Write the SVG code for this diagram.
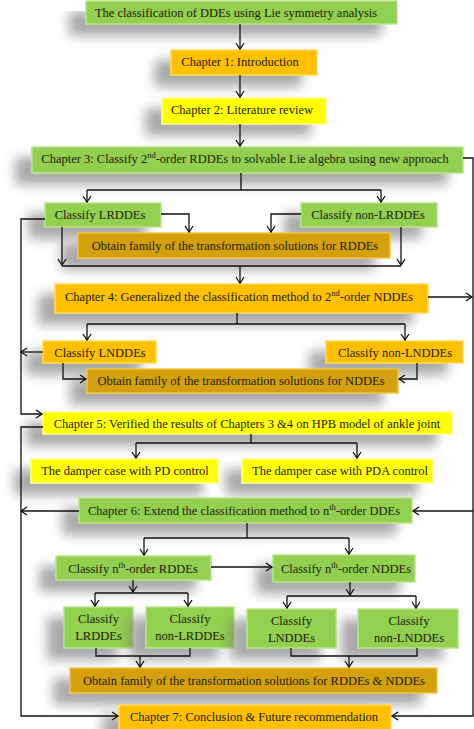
<svg xmlns="http://www.w3.org/2000/svg" width="474" height="729" viewBox="0 0 474 729">
<defs>
<style>
text{font-family:'Liberation Serif','Times New Roman',serif;font-size:12.5px;fill:#1c1c0c;text-anchor:middle}
.g{fill:#92d050;stroke:#b9e48a;stroke-width:1.5}
.o{fill:#ffc000;stroke:#ffd95a;stroke-width:1.5}
.y{fill:#ffff00;stroke:#ffff8c;stroke-width:1.5}
.d{fill:#d4a00c;stroke:#f0c640;stroke-width:1.5}
.b{filter:url(#sh)}
.c path{fill:none;stroke:#111;stroke-width:1.3}
.c path.a{marker-end:url(#ah)}
</style>
<filter id="sh" filterUnits="userSpaceOnUse" x="0" y="0" width="474" height="729">
<feGaussianBlur in="SourceAlpha" stdDeviation="6" result="bl"/>
<feOffset in="bl" dx="-16" dy="11" result="of"/>
<feFlood flood-color="#7a7a7a" flood-opacity="0.65"/>
<feComposite in2="of" operator="in" result="s"/>
<feMerge><feMergeNode in="s"/><feMergeNode in="SourceGraphic"/></feMerge>
</filter>
<marker id="ah" markerUnits="userSpaceOnUse" markerWidth="12" markerHeight="12" viewBox="-8 -6 10 12" refX="0" refY="0" orient="auto">
<path d="M-6,-4 L0,0 L-6,4" fill="none" stroke="#111" stroke-width="1.3"/>
</marker>
</defs>
<rect width="474" height="729" fill="#fff"/>

<g id="title"><rect class="g b" x="86" y="1" width="311" height="23"/><text x="236" y="17">The classification of DDEs using Lie symmetry analysis</text></g>
<g id="ch1"><rect class="o b" x="171" y="50" width="146" height="25"/><text x="240" y="66">Chapter 1: Introduction</text></g>
<g id="ch2"><rect class="y b" x="162" y="98" width="164" height="26"/><text x="242" y="113.5">Chapter 2: Literature review</text></g>
<g id="ch3"><rect class="g b" x="32" y="147" width="431" height="26"/><text x="245" y="162.5">Chapter 3: Classify 2<tspan dy="-5" font-size="8.5">nd</tspan><tspan dy="5">-order RDDEs to solvable Lie algebra using new approach</tspan></text></g>
<g id="lrddes"><rect class="g b" x="45" y="203" width="116" height="24"/><text x="100" y="219">Classify LRDDEs</text></g>
<g id="nonlrddes"><rect class="g b" x="301" y="203" width="136" height="24"/><text x="368" y="219">Classify non-LRDDEs</text></g>
<g id="obtainR"><rect class="d b" x="78" y="233" width="312" height="25"/><text x="235" y="249.5">Obtain family of the transformation solutions for RDDEs</text></g>
<g id="ch4"><rect class="o b" x="55" y="284" width="373" height="29"/><text x="239" y="301">Chapter 4: Generalized the classification method to 2<tspan dy="-5" font-size="8.5">nd</tspan><tspan dy="5">-order NDDEs</tspan></text></g>
<g id="lnddes"><rect class="o b" x="43" y="341" width="113" height="22"/><text x="100" y="356.5">Classify LNDDEs</text></g>
<g id="nonlnddes"><rect class="o b" x="326" y="341" width="137" height="22"/><text x="395" y="356.5">Classify non-LNDDEs</text></g>
<g id="obtainN"><rect class="d b" x="87" y="369" width="311" height="24"/><text x="241" y="384.5">Obtain family of the transformation solutions for NDDEs</text></g>
<g id="ch5"><rect class="y b" x="43" y="412" width="409" height="22"/><text x="247" y="427.5">Chapter 5: Verified the results of Chapters 3 &amp;4 on HPB model of ankle joint</text></g>
<g id="pd"><rect class="y b" x="31" y="459" width="187" height="24"/><text x="125" y="474.5">The damper case with PD control</text></g>
<g id="pda"><rect class="y b" x="242" y="459" width="191" height="24"/><text x="340" y="474.5">The damper case with PDA control</text></g>
<g id="ch6"><rect class="g b" x="79" y="498" width="333" height="25"/><text x="244" y="514.5">Chapter 6: Extend the classification method to n<tspan dy="-5" font-size="8.5">th</tspan><tspan dy="5">-order DDEs</tspan></text></g>
<g id="nthR"><rect class="g b" x="56" y="556" width="155" height="24"/><text x="133" y="572.5">Classify n<tspan dy="-5" font-size="8.5">th</tspan><tspan dy="5">-order RDDEs</tspan></text></g>
<g id="nthN"><rect class="g b" x="273" y="555" width="142" height="27"/><text x="346" y="572.5">Classify n<tspan dy="-5" font-size="8.5">th</tspan><tspan dy="5">-order NDDEs</tspan></text></g>
<g id="s1"><rect class="g b" x="64" y="607" width="69" height="41"/><text x="98.5" y="623">Classify</text><text x="98.5" y="640">LRDDEs</text></g>
<g id="s2"><rect class="g b" x="146" y="607" width="88" height="41"/><text x="190" y="623">Classify</text><text x="190" y="640">non-LRDDEs</text></g>
<g id="s3"><rect class="g b" x="247" y="609" width="89" height="39"/><text x="291.5" y="625">Classify</text><text x="291.5" y="642">LNDDEs</text></g>
<g id="s4"><rect class="g b" x="358" y="609" width="100" height="39"/><text x="409" y="625">Classify</text><text x="409" y="642">non-LNDDEs</text></g>
<g id="obtainRN"><rect class="d b" x="70" y="668" width="367" height="25"/><text x="254" y="684.5">Obtain family of the transformation solutions for RDDEs &amp; NDDEs</text></g>
<g id="ch7"><rect class="o b" x="119" y="705" width="272" height="26"/><text x="254" y="721">Chapter 7: Conclusion &amp; Future recommendation</text></g>

<g id="connectors" class="c">
<path class="a" d="M240,24 V49"/>
<path class="a" d="M240,75 V97"/>
<path class="a" d="M240,124 V146"/>
<path d="M241,173 V190 M87,190 H381"/>
<path class="a" d="M87,190 V202"/>
<path class="a" d="M381,190 V202"/>
<path class="a" d="M161,214 H189 V232"/>
<path class="a" d="M301,214 H271 V232"/>
<path class="a" d="M45,219 H21 V414 H42"/>
<path class="a" d="M62,227 V265"/>
<path class="a" d="M401,227 V265"/>
<path d="M62,266 H401"/>
<path class="a" d="M240,266 V283"/>
<path class="a" d="M463,158 H473 V716 H392"/>
<path class="a" d="M428,297 H472"/>
<path class="a" d="M473,511 H413"/>
<path d="M237,313 V324 M87,324 H405"/>
<path class="a" d="M87,324 V340"/>
<path class="a" d="M405,324 V340"/>
<path class="a" d="M43,352 H21"/>
<path class="a" d="M63,363 V379 H86"/>
<path class="a" d="M417,363 V379 H399"/>
<path class="a" d="M43,427 H21 V716 H118"/>
<path d="M251,434 V443 M136,443 H357"/>
<path class="a" d="M136,443 V458"/>
<path class="a" d="M357,443 V458"/>
<path class="a" d="M79,511 H21"/>
<path d="M247,523 V538 M144,538 H349"/>
<path class="a" d="M144,538 V555"/>
<path class="a" d="M349,538 V554"/>
<path class="a" d="M211,567 H272"/>
<path class="a" d="M133,580 V592"/>
<path d="M95,593 H188"/>
<path class="a" d="M95,593 V606"/>
<path class="a" d="M188,593 V606"/>
<path class="a" d="M350,582 V595"/>
<path d="M287,596 H416"/>
<path class="a" d="M287,596 V608"/>
<path class="a" d="M416,596 V608"/>
<path d="M96,648 V656 H190 V648"/>
<path class="a" d="M140,656 V667"/>
<path d="M291,648 V656 H417 V648"/>
<path class="a" d="M349,656 V667"/>
</g>
</svg>
